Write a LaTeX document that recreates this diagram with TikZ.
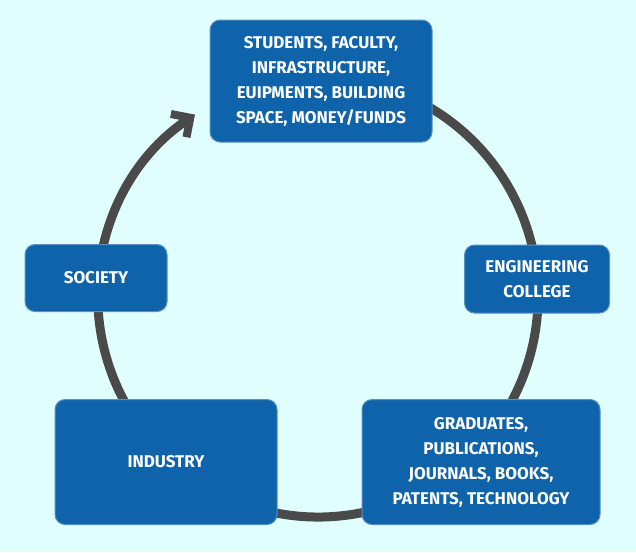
\documentclass[tikz,border=0pt]{standalone}
\usepackage{fontspec}
\setmainfont{Fira Sans}
\usetikzlibrary{arrows.meta}
\definecolor{bg}{HTML}{E0FEFE}
\definecolor{bx}{HTML}{0F63AA}
\definecolor{ring}{HTML}{4A4A4A}
\begin{document}
\begin{tikzpicture}[x=1pt,y=-1pt,
  box/.style={fill=bx,draw=bx!70!white,line width=1pt,rounded corners=10pt,text=white,align=center,
    font=\fontsize{17}{25}\selectfont\bfseries,inner sep=0pt}]
\fill[bg] (0,0) rectangle (636,552);
\useasboundingbox (0,0) rectangle (636,552);
\coordinate (c) at (318,297);
\draw[ring,line width=9pt,-{Straight Barb[length=14pt,width=28pt,line width=8pt]}]
  ([shift={(-117:220)}]c) arc[start angle=-117,end angle=236,radius=220];
\node[box,minimum width=222pt,minimum height=122pt] (top) at (321,81)
  {STUDENTS, FACULTY,\\INFRASTRUCTURE,\\EUIPMENTS, BUILDING\\SPACE, MONEY/FUNDS};
\node[box,minimum width=142pt,minimum height=67pt] (soc) at (96,278) {SOCIETY};
\node[box,minimum width=145pt,minimum height=68pt] (eng) at (537,279) {ENGINEERING\\COLLEGE};
\node[box,minimum width=222pt,minimum height=125pt] (ind) at (166,462) {INDUSTRY};
\node[box,minimum width=238pt,minimum height=125pt] (grad) at (481,462)
  {GRADUATES,\\PUBLICATIONS,\\JOURNALS, BOOKS,\\PATENTS, TECHNOLOGY};
\end{tikzpicture}
\end{document}
